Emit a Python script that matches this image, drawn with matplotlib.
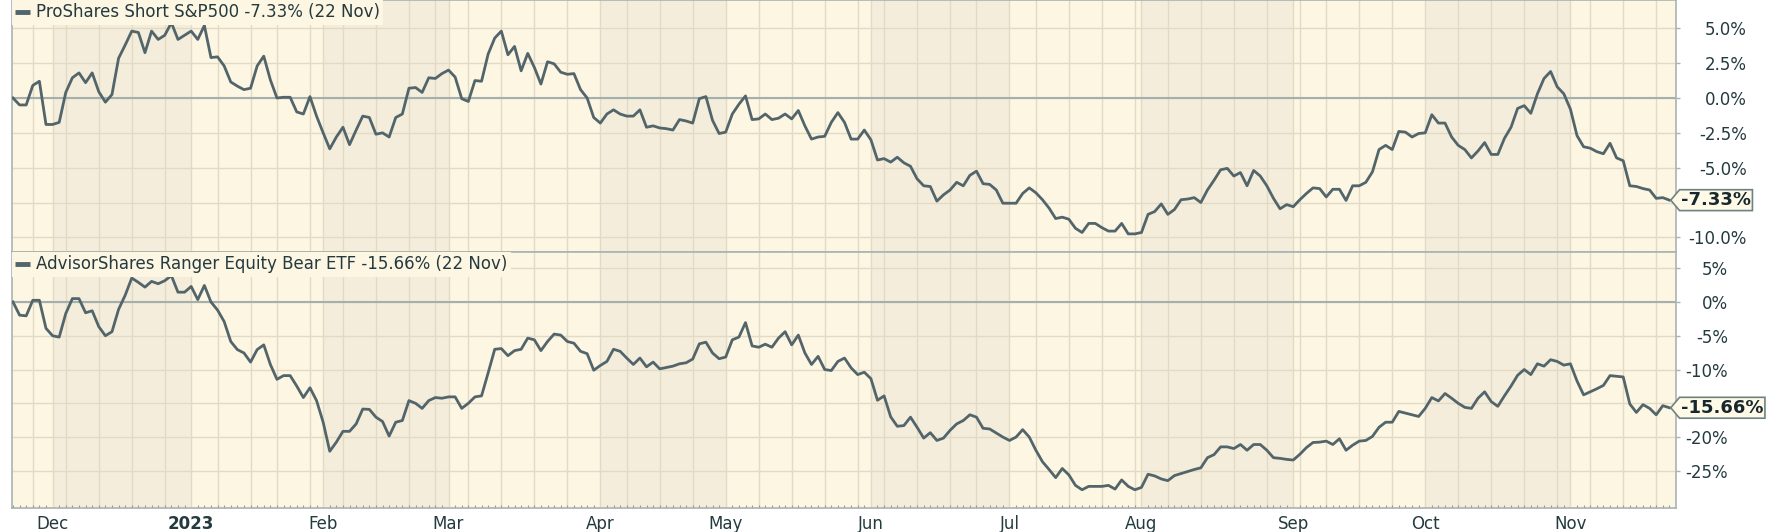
import numpy as np
import pandas as pd
import matplotlib
matplotlib.use('Agg')
import matplotlib.pyplot as plt
from matplotlib.path import Path
from matplotlib.lines import Line2D
from matplotlib.transforms import blended_transform_factory

# trading days, 22 Nov 2022 - 22 Nov 2023
holidays = ['2022-11-24', '2022-12-26', '2023-01-02', '2023-01-16', '2023-02-20',
            '2023-04-07', '2023-05-29', '2023-06-19', '2023-07-04', '2023-09-04']
days = pd.bdate_range('2022-11-22', '2023-11-22')
days = days[~days.isin(pd.to_datetime(holidays))]

# % change since start, one value per trading day
short_sp500 = [
    0.0, -0.5, -0.5, 0.9, 1.2, -1.9, -1.9, -1.75, 0.4, 1.45,
    1.8, 1.1, 1.8, 0.45, -0.3, 0.25, 2.85, 3.8, 4.8, 4.7,
    3.25, 4.8, 4.2, 4.5, 5.4, 4.2, 4.5, 4.8, 4.2, 5.2,
    2.9, 2.95, 2.3, 1.15, 0.85, 0.6, 0.7, 2.3, 3.0, 1.3,
    0.0, 0.05, 0.05, -1.0, -1.15, 0.1, -1.3, -2.5, -3.65, -2.8,
    -2.1, -3.35, -2.3, -1.3, -1.4, -2.6, -2.5, -2.8, -1.4, -1.15,
    0.7, 0.75, 0.4, 1.45, 1.4, 1.75, 2.0, 1.5, -0.05, -0.25,
    1.25, 1.2, 3.15, 4.3, 4.8, 3.1, 3.7, 1.95, 3.2, 2.2,
    1.0, 2.6, 2.45, 1.85, 1.7, 1.75, 0.6, 0.0, -1.4, -1.8,
    -1.15, -0.85, -1.15, -1.3, -1.3, -0.85, -2.1, -2.0, -2.15, -2.2,
    -2.3, -1.55, -1.65, -1.8, -0.05, 0.1, -1.6, -2.55, -2.45, -1.15,
    -0.45, 0.15, -1.55, -1.5, -1.15, -1.55, -1.45, -1.15, -1.5, -0.9,
    -2.0, -2.95, -2.8, -2.75, -1.75, -1.05, -1.75, -2.95, -2.95, -2.3,
    -3.0, -4.45, -4.35, -4.6, -4.25, -4.65, -4.9, -5.8, -6.3, -6.35,
    -7.4, -6.95, -6.6, -6.05, -6.3, -5.55, -5.25, -6.15, -6.2, -6.6,
    -7.55, -7.55, -7.55, -6.85, -6.45, -6.8, -7.3, -7.9, -8.65, -8.55,
    -8.7, -9.35, -9.65, -9.0, -9.0, -9.3, -9.55, -9.55, -9.0, -9.75,
    -9.75, -9.65, -8.35, -8.15, -7.6, -8.35, -8.0, -7.3, -7.25, -7.15,
    -7.5, -6.6, -5.9, -5.15, -5.05, -5.6, -5.35, -6.3, -5.2, -5.6,
    -6.3, -7.2, -7.95, -7.65, -7.8, -7.3, -6.85, -6.45, -6.5, -7.1,
    -6.55, -6.55, -7.35, -6.3, -6.3, -6.05, -5.3, -3.7, -3.4, -3.7,
    -2.4, -2.45, -2.8, -2.55, -2.5, -1.2, -1.8, -1.8, -2.8, -3.4,
    -3.7, -4.3, -3.8, -3.2, -4.05, -4.05, -2.9, -2.1, -0.75, -0.55,
    -1.1, 0.3, 1.4, 1.9, 0.8, 0.3, -0.8, -2.7, -3.5, -3.6,
    -3.85, -4.0, -3.25, -4.3, -4.5, -6.3, -6.35, -6.5, -6.6, -7.2,
    -7.15, -7.33,
]

ranger_bear = [
    0.0, -1.95, -2.05, 0.25, 0.25, -3.9, -5.0, -5.2, -1.7, 0.5,
    0.5, -1.6, -1.3, -3.65, -5.0, -4.4, -1.1, 1.0, 3.55, 2.9,
    2.2, 3.05, 2.7, 3.15, 3.9, 1.45, 1.45, 2.3, 0.35, 2.45,
    0.0, -1.2, -2.9, -5.85, -7.05, -7.55, -8.9, -7.05, -6.35, -9.25,
    -11.45, -10.9, -10.9, -12.45, -14.15, -12.7, -14.6, -17.8, -22.1, -20.75,
    -19.15, -19.15, -18.05, -15.85, -15.9, -17.05, -17.7, -19.85, -17.8, -17.55,
    -14.6, -15.0, -15.75, -14.6, -14.15, -14.25, -14.05, -14.05, -15.75, -15.0,
    -14.05, -13.9, -10.5, -7.0, -6.9, -7.95, -7.2, -7.0, -5.35, -5.6,
    -7.2, -5.85, -4.75, -4.9, -5.85, -6.1, -7.3, -7.65, -10.1, -9.4,
    -8.8, -7.0, -7.3, -8.3, -9.25, -8.3, -9.6, -8.9, -9.9, -9.7,
    -9.5, -9.15, -9.0, -8.45, -6.2, -5.95, -7.55, -8.4, -8.15, -5.6,
    -5.2, -3.05, -6.5, -6.7, -6.25, -6.7, -5.35, -4.4, -6.35, -4.9,
    -7.55, -9.25, -8.05, -10.0, -10.15, -8.8, -8.3, -9.75, -10.75, -10.4,
    -11.35, -14.55, -13.9, -17.0, -18.4, -18.3, -17.05, -18.55, -20.15, -19.35,
    -20.5, -20.15, -19.0, -18.05, -17.55, -16.7, -17.05, -18.7, -18.8, -19.4,
    -20.0, -20.5, -20.0, -18.9, -20.0, -21.95, -23.65, -24.8, -26.0, -24.65,
    -25.6, -27.15, -27.8, -27.3, -27.3, -27.3, -27.15, -27.7, -26.35, -27.3,
    -27.8, -27.45, -25.5, -25.75, -26.2, -26.45, -25.7, -25.4, -25.1, -24.8,
    -24.55, -23.05, -22.6, -21.45, -21.45, -21.7, -21.1, -21.95, -21.1, -21.1,
    -21.95, -23.05, -23.15, -23.3, -23.4, -22.55, -21.55, -20.8, -20.75, -20.6,
    -21.1, -20.25, -21.95, -21.2, -20.6, -20.5, -19.9, -18.55, -17.8, -17.8,
    -16.2, -16.45, -16.7, -16.95, -15.75, -14.15, -14.65, -13.55, -14.25, -15.0,
    -15.6, -15.75, -14.25, -13.3, -14.75, -15.45, -13.9, -12.45, -10.85, -10.0,
    -10.75, -9.15, -9.5, -8.55, -8.8, -9.35, -9.15, -11.7, -13.75, -13.3,
    -12.85, -12.35, -10.9, -11.0, -11.1, -15.1, -16.35, -15.2, -15.75, -16.7,
    -15.35, -15.66,
]

names = ['ProShares Short S&P500', 'AdvisorShares Ranger Equity Bear ETF']
top_ticks = [-10.0, -7.5, -5.0, -2.5, 0.0, 2.5, 5.0]
bottom_ticks = [-25, -20, -15, -10, -5, 0, 5]

bg = '#FDF6E3'
shade = '#F4EDDB'
grid_c = '#E3DAC6'
zero_c = '#A4B0AD'
spine_c = '#A9B4B1'
line_c = '#52656A'
text_c = '#243A3F'

n = min(len(days), len(short_sp500), len(ranger_bear))
days = days[:n]
x = np.arange(n)
month_idx = [i for i in range(1, n) if days[i].month != days[i - 1].month]
week_idx = [i for i in range(1, n) if days[i].weekday() < days[i - 1].weekday()]


def tag_box(x0, y0, width, height, mutation_size, *args):
    pad = 0.08 * mutation_size
    x0, y0 = x0 - pad, y0 - pad
    x1, y1 = x0 + width + 2 * pad, y0 + height + 2 * pad
    tip = 0.42 * (y1 - y0)
    verts = [(x0, y0), (x1, y0), (x1, y1), (x0, y1), (x0 - tip, (y0 + y1) / 2), (x0, y0)]
    return Path(verts, closed=True)


W, H = 1770, 532
fig = plt.figure(figsize=(W / 100, H / 100), dpi=100)
fig.patch.set_facecolor('white')
ax1 = fig.add_axes([12 / W, 1 - 252 / H, 1664 / W, 252 / H])
ax2 = fig.add_axes([12 / W, 1 - 508 / H, 1664 / W, 256 / H])

panels = [
    (ax1, short_sp500, names[0], top_ticks, (-11.05, 7.03), '{:.1f}%', 48),
    (ax2, ranger_bear, names[1], bottom_ticks, (-30.5, 7.4), '{:.0f}%', 34.5),
]

for ax, vals, name, ticks, ylim, fmt, pad in panels:
    vals = np.array(vals[:n])
    last = vals[-1]
    ax.set_facecolor(bg)
    ax.set_xlim(-0.15, 252.0)
    ax.set_ylim(*ylim)

    # alternate month shading
    bounds = month_idx + [n + 5]
    for k, s in enumerate(month_idx):
        if days[s].month % 2 == 0:
            ax.axvspan(s, bounds[k + 1], color=shade, lw=0, zorder=0)
    for i in sorted(set(week_idx + month_idx)):
        ax.axvline(i, color=grid_c, lw=1.0, zorder=1)
    for t in ticks:
        ax.axhline(t, color=grid_c, lw=1.0, zorder=1)
    ax.axhline(0, color=zero_c, lw=1.5, zorder=2)

    ax.plot(x, vals, color=line_c, lw=2.0, zorder=3, solid_joinstyle='round')

    # right axis labels, the one under the value tag left out
    step = ticks[1] - ticks[0]
    labels = ['' if abs(t - last) < step / 2 else fmt.format(t) for t in ticks]
    ax.yaxis.tick_right()
    ax.set_yticks(ticks, labels, ha='right')
    ax.tick_params(axis='y', direction='out', length=3, width=1, color=spine_c,
                   labelsize=12, labelcolor=text_c, pad=pad)

    for sp in ax.spines.values():
        sp.set_color(spine_c)
        sp.set_linewidth(1.2)

    h = Line2D([], [], color=line_c, lw=3.5, solid_capstyle='butt')
    leg = ax.legend([h], [f'{name} {last:.2f}% (22 Nov)'], loc='upper left',
                    bbox_to_anchor=(0.0, 1.0), borderaxespad=0.0, borderpad=0.2,
                    handlelength=0.9, handletextpad=0.35, fontsize=12, frameon=True,
                    fancybox=False, facecolor=bg, edgecolor='none', framealpha=1)
    leg.set_zorder(5)
    for t in leg.get_texts():
        t.set_color(text_c)

    trans = blended_transform_factory(ax.transAxes, ax.transData)
    ax.text(1.003, last, f'{last:.2f}%', transform=trans, ha='left', va='center',
            fontsize=13, fontweight='bold', color='#17282C', clip_on=False, zorder=10,
            bbox=dict(boxstyle=tag_box, fc='#FFF9E8', ec='#6F8283', lw=1.2))

ax1.tick_params(axis='x', which='both', bottom=False, labelbottom=False)

month_labels = ['2023' if days[i].month == 1 else days[i].strftime('%b') for i in month_idx]
ax2.set_xticks(month_idx, month_labels)
ax2.set_xticks(x, minor=True)
ax2.tick_params(axis='x', which='major', length=0, pad=5, labelsize=12, labelcolor=text_c)
ax2.tick_params(axis='x', which='minor', direction='in', length=2.5, width=0.8, color='#8E9C9A')
for lab in ax2.get_xticklabels():
    if lab.get_text() == '2023':
        lab.set_fontweight('bold')

fig.savefig('out.png', dpi=100)
